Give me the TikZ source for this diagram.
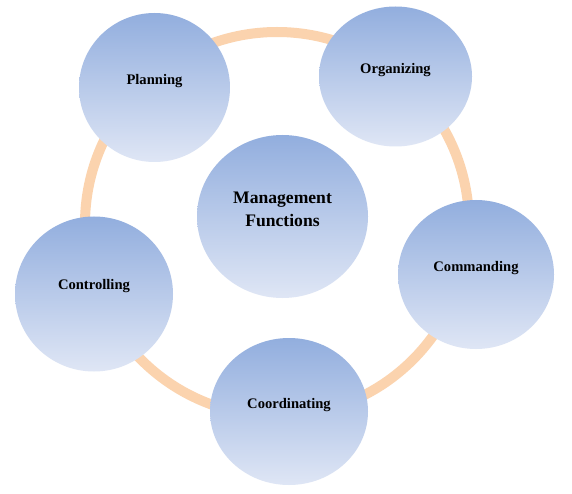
\documentclass[tikz,border=0pt]{standalone}
\usepackage{fontspec}
\setmainfont{Liberation Serif}
\usetikzlibrary{shapes.geometric}
\definecolor{ringc}{RGB}{251,211,174}
\definecolor{topblue}{RGB}{146,174,222}
\definecolor{botblue}{RGB}{223,230,245}
\tikzset{
  bubble/.style={ellipse, inner sep=0pt, top color=topblue, bottom color=botblue, draw=none},
  smalltxt/.style={font=\fontsize{14.6}{16}\selectfont\bfseries, text=black, inner sep=0pt},
  bigtxt/.style={font=\fontsize{17.6}{22.5}\selectfont\bfseries, text=black, align=center, inner sep=0pt}
}
\begin{document}
\begin{tikzpicture}[x=1pt,y=-1pt]
\useasboundingbox[fill=white] (0,0) rectangle (572,494);
\coordinate (ringc) at (277,224);
\draw[ringc, line width=10pt] (ringc) circle[radius=192];
\node[bubble, minimum width=151pt, minimum height=149pt] (plan) at (154.5,87.5) {};
\node[bubble, minimum width=153pt, minimum height=140pt] (org) at (395.5,76.5) {};
\node[bubble, minimum width=156pt, minimum height=149pt] (comm) at (476,274.5) {};
\node[bubble, minimum width=158pt, minimum height=147pt] (coord) at (289,411.5) {};
\node[bubble, minimum width=158pt, minimum height=155pt] (ctrl) at (94,294) {};
\node[bubble, minimum width=171pt, minimum height=163pt] (mgmt) at (282.5,216.5) {};
\node[smalltxt] (tplan) at ([yshift=6.5pt]plan.center) {Planning};
\node[smalltxt] (torg) at ([yshift=6.5pt]org.center) {Organizing};
\node[smalltxt] (tcomm) at ([yshift=6.5pt]comm.center) {Commanding};
\node[smalltxt] (tcoord) at ([yshift=6.5pt]coord.center) {Coordinating};
\node[smalltxt] (tctrl) at ([yshift=8pt]ctrl.center) {Controlling};
\node[bigtxt] (tmgmt) at ([yshift=7pt]mgmt.center) {Management\\Functions};
\end{tikzpicture}
\end{document}
